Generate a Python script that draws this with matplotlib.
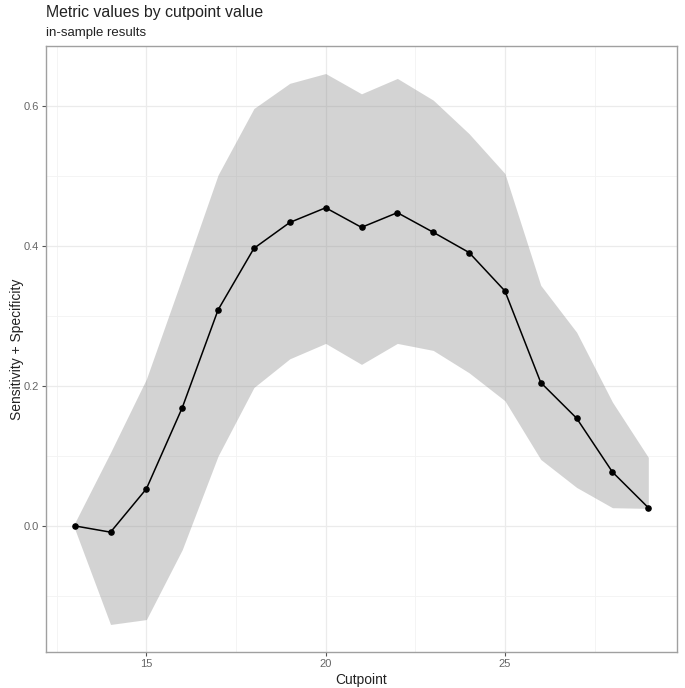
import matplotlib
matplotlib.use("Agg")
import matplotlib.pyplot as plt
import numpy as np

plt.rcParams['font.family'] = ['Liberation Sans', 'DejaVu Sans']

# values
cutpoint = [13, 14, 15, 16, 17, 18, 19, 20, 21, 22, 23, 24, 25, 26, 27, 28, 29]
metric = [0.000, -0.009, 0.053, 0.169, 0.309, 0.397, 0.434, 0.455, 0.427,
          0.448, 0.420, 0.391, 0.336, 0.205, 0.154, 0.077, 0.026]
upper = [0.004, 0.105, 0.210, 0.355, 0.502, 0.597, 0.633, 0.647, 0.618,
         0.640, 0.609, 0.561, 0.504, 0.344, 0.277, 0.177, 0.098]
lower = [-0.004, -0.141, -0.134, -0.034, 0.100, 0.198, 0.239, 0.261, 0.231,
         0.261, 0.251, 0.219, 0.179, 0.095, 0.055, 0.026, 0.025]

x_ticks = [15, 20, 25]
y_ticks = [0.0, 0.2, 0.4, 0.6]

W, H = 685, 688
fig = plt.figure(figsize=(W / 100, H / 100), dpi=100, facecolor='white')
ax = fig.add_axes([46 / W, 1 - 652 / H, (677 - 46) / W, (652 - 46) / H])

# ggplot-like expansion of 5%
xr = max(cutpoint) - min(cutpoint)
ax.set_xlim(min(cutpoint) - 0.05 * xr, max(cutpoint) + 0.05 * xr)
ymin, ymax = min(lower), max(upper)
yr = ymax - ymin
ax.set_ylim(ymin - 0.05 * yr, ymax + 0.05 * yr)

ax.set_xticks(x_ticks)
ax.set_yticks(y_ticks)
ax.set_xticks([12.5, 17.5, 22.5, 27.5], minor=True)
ax.set_yticks([-0.1, 0.1, 0.3, 0.5], minor=True)
ax.set_yticklabels([f"{v:.1f}" for v in y_ticks])

ax.grid(which='major', color='#EBEBEB', linewidth=0.9)
ax.grid(which='minor', color='#F3F3F3', linewidth=0.6)
ax.set_axisbelow(True)

ax.fill_between(cutpoint, lower, upper, color='#7F7F7F', alpha=0.34,
                linewidth=0, zorder=2)
ax.plot(cutpoint, metric, color='black', linewidth=1.1, zorder=3)
ax.scatter(cutpoint, metric, color='black', s=14, zorder=4)

for s in ax.spines.values():
    s.set_color('#A0A0A0')
    s.set_linewidth(1.0)
ax.tick_params(which='major', length=3, width=0.8, color='#555555',
               labelsize=8, labelcolor='#666666', pad=2)
ax.tick_params(which='minor', length=0)

ax.set_xlabel('Cutpoint', fontsize=10, color='#222222', labelpad=3)
ax.set_ylabel('Sensitivity + Specificity', fontsize=10, color='#222222', labelpad=0)

fig.text(46 / W, 1 - 12 / H, 'Metric values by cutpoint value', fontsize=11.4,
         ha='left', va='center', color='#222222')
fig.text(46 / W, 1 - 33 / H, 'in-sample results', fontsize=9.5,
         ha='left', va='center', color='#222222')

fig.savefig('out.png', dpi=100, facecolor='white')
